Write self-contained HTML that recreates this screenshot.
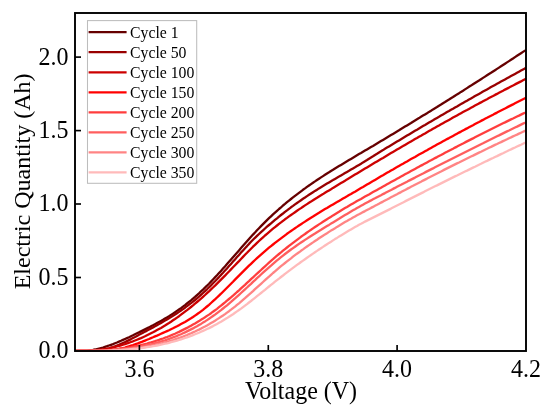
<!DOCTYPE html>
<html lang="en"><head><meta charset="utf-8"><title>Electric Quantity vs Voltage</title>
<style>html,body{margin:0;padding:0;background:#fff}body{width:550px;height:411px;overflow:hidden}svg{display:block}text{font-family:"Liberation Serif",serif;fill:#000}</style></head><body>
<svg width="550" height="411" viewBox="0 0 550 411">
<rect width="550" height="411" fill="#fff"/>
<defs><clipPath id="ax"><rect x="75" y="13" width="451" height="338.6"/></clipPath></defs>
<g clip-path="url(#ax)" fill="none" stroke-width="2.3" stroke-linejoin="round" stroke-linecap="butt">
<path d="M75.0,351.0 L77.0,351.0 L79.0,351.0 L81.0,351.0 L83.0,351.0 L85.0,350.9 L87.0,350.8 L89.0,350.5 L91.0,350.2 L93.0,349.9 L95.0,349.5 L97.0,349.0 L99.0,348.5 L101.0,348.0 L103.0,347.5 L105.0,346.8 L107.0,346.2 L109.0,345.5 L111.0,344.8 L113.0,344.1 L115.0,343.3 L117.0,342.5 L119.0,341.6 L121.0,340.8 L123.0,339.9 L125.0,339.0 L127.0,338.1 L129.0,337.2 L131.0,336.2 L133.0,335.3 L135.0,334.3 L137.0,333.3 L139.0,332.4 L141.0,331.4 L143.0,330.4 L145.0,329.4 L147.0,328.4 L149.0,327.4 L151.0,326.3 L153.0,325.3 L155.0,324.2 L157.0,323.1 L159.0,322.0 L161.0,320.9 L163.0,319.8 L165.0,318.6 L167.0,317.4 L169.0,316.2 L171.0,314.9 L173.0,313.6 L175.0,312.3 L177.0,310.9 L179.0,309.5 L181.0,308.1 L183.0,306.6 L185.0,305.1 L187.0,303.5 L189.0,301.9 L191.0,300.3 L193.0,298.6 L195.0,296.9 L197.0,295.1 L199.0,293.3 L201.0,291.4 L203.0,289.6 L205.0,287.6 L207.0,285.7 L209.0,283.7 L211.0,281.6 L213.0,279.5 L215.0,277.4 L217.0,275.3 L219.0,273.1 L221.0,270.9 L223.0,268.6 L225.0,266.4 L227.0,264.1 L229.0,261.8 L231.0,259.5 L233.0,257.2 L235.0,254.9 L237.0,252.7 L239.0,250.4 L241.0,248.1 L243.0,245.8 L245.0,243.5 L247.0,241.3 L249.0,239.0 L251.0,236.8 L253.0,234.6 L255.0,232.5 L257.0,230.3 L259.0,228.2 L261.0,226.1 L263.0,224.1 L265.0,222.1 L267.0,220.1 L269.0,218.2 L271.0,216.3 L273.0,214.4 L275.0,212.6 L277.0,210.8 L279.0,209.0 L281.0,207.3 L283.0,205.5 L285.0,203.9 L287.0,202.2 L289.0,200.6 L291.0,199.0 L293.0,197.4 L295.0,195.8 L297.0,194.3 L299.0,192.8 L301.0,191.3 L303.0,189.8 L305.0,188.4 L307.0,186.9 L309.0,185.5 L311.0,184.1 L313.0,182.7 L315.0,181.4 L317.0,180.0 L319.0,178.7 L321.0,177.4 L323.0,176.1 L325.0,174.8 L327.0,173.5 L329.0,172.3 L331.0,171.0 L333.0,169.8 L335.0,168.5 L337.0,167.3 L339.0,166.1 L341.0,164.9 L343.0,163.7 L345.0,162.5 L347.0,161.3 L349.0,160.1 L351.0,158.9 L353.0,157.7 L355.0,156.5 L357.0,155.3 L359.0,154.1 L361.0,153.0 L363.0,151.8 L365.0,150.6 L367.0,149.4 L369.0,148.2 L371.0,147.0 L373.0,145.9 L375.0,144.7 L377.0,143.5 L379.0,142.3 L381.0,141.1 L383.0,139.9 L385.0,138.7 L387.0,137.5 L389.0,136.3 L391.0,135.1 L393.0,133.9 L395.0,132.7 L397.0,131.5 L399.0,130.3 L401.0,129.0 L403.0,127.8 L405.0,126.6 L407.0,125.4 L409.0,124.2 L411.0,123.0 L413.0,121.7 L415.0,120.5 L417.0,119.3 L419.0,118.1 L421.0,116.8 L423.0,115.6 L425.0,114.4 L427.0,113.2 L429.0,111.9 L431.0,110.7 L433.0,109.4 L435.0,108.2 L437.0,107.0 L439.0,105.7 L441.0,104.5 L443.0,103.2 L445.0,102.0 L447.0,100.7 L449.0,99.5 L451.0,98.2 L453.0,97.0 L455.0,95.7 L457.0,94.4 L459.0,93.2 L461.0,91.9 L463.0,90.7 L465.0,89.4 L467.0,88.1 L469.0,86.8 L471.0,85.6 L473.0,84.3 L475.0,83.0 L477.0,81.7 L479.0,80.5 L481.0,79.2 L483.0,77.9 L485.0,76.6 L487.0,75.3 L489.0,74.0 L491.0,72.8 L493.0,71.5 L495.0,70.2 L497.0,68.9 L499.0,67.6 L501.0,66.3 L503.0,65.0 L505.0,63.7 L507.0,62.4 L509.0,61.1 L511.0,59.8 L513.0,58.5 L515.0,57.1 L517.0,55.8 L519.0,54.5 L521.0,53.2 L523.0,51.9 L525.0,50.6 L526.0,49.9" stroke="#660000"/>
<path d="M75.0,351.0 L77.0,350.9 L79.0,350.9 L81.0,350.9 L83.0,350.9 L85.0,350.8 L87.0,350.8 L89.0,350.8 L91.0,350.7 L93.0,350.6 L95.0,350.5 L97.0,350.4 L99.0,350.2 L101.0,349.9 L103.0,349.6 L105.0,349.2 L107.0,348.8 L109.0,348.3 L111.0,347.7 L113.0,347.1 L115.0,346.4 L117.0,345.6 L119.0,344.8 L121.0,343.9 L123.0,343.0 L125.0,342.1 L127.0,341.1 L129.0,340.1 L131.0,339.1 L133.0,338.0 L135.0,337.0 L137.0,335.9 L139.0,334.8 L141.0,333.8 L143.0,332.7 L145.0,331.6 L147.0,330.6 L149.0,329.5 L151.0,328.4 L153.0,327.4 L155.0,326.3 L157.0,325.2 L159.0,324.1 L161.0,322.9 L163.0,321.8 L165.0,320.6 L167.0,319.4 L169.0,318.2 L171.0,317.0 L173.0,315.8 L175.0,314.5 L177.0,313.2 L179.0,311.9 L181.0,310.5 L183.0,309.1 L185.0,307.7 L187.0,306.2 L189.0,304.7 L191.0,303.2 L193.0,301.6 L195.0,300.0 L197.0,298.3 L199.0,296.6 L201.0,294.8 L203.0,293.0 L205.0,291.2 L207.0,289.3 L209.0,287.3 L211.0,285.4 L213.0,283.3 L215.0,281.3 L217.0,279.2 L219.0,277.1 L221.0,274.9 L223.0,272.8 L225.0,270.6 L227.0,268.4 L229.0,266.1 L231.0,263.9 L233.0,261.6 L235.0,259.4 L237.0,257.1 L239.0,254.9 L241.0,252.6 L243.0,250.4 L245.0,248.2 L247.0,246.1 L249.0,243.9 L251.0,241.8 L253.0,239.8 L255.0,237.8 L257.0,235.9 L259.0,234.0 L261.0,232.1 L263.0,230.3 L265.0,228.5 L267.0,226.7 L269.0,225.0 L271.0,223.3 L273.0,221.6 L275.0,219.9 L277.0,218.3 L279.0,216.6 L281.0,215.0 L283.0,213.5 L285.0,211.9 L287.0,210.4 L289.0,208.8 L291.0,207.3 L293.0,205.9 L295.0,204.4 L297.0,203.0 L299.0,201.6 L301.0,200.2 L303.0,198.8 L305.0,197.5 L307.0,196.1 L309.0,194.8 L311.0,193.5 L313.0,192.2 L315.0,190.9 L317.0,189.7 L319.0,188.4 L321.0,187.2 L323.0,186.0 L325.0,184.8 L327.0,183.6 L329.0,182.4 L331.0,181.2 L333.0,180.1 L335.0,178.9 L337.0,177.7 L339.0,176.6 L341.0,175.4 L343.0,174.3 L345.0,173.1 L347.0,171.9 L349.0,170.8 L351.0,169.6 L353.0,168.4 L355.0,167.3 L357.0,166.1 L359.0,164.9 L361.0,163.7 L363.0,162.4 L365.0,161.2 L367.0,160.0 L369.0,158.7 L371.0,157.5 L373.0,156.3 L375.0,155.0 L377.0,153.8 L379.0,152.5 L381.0,151.3 L383.0,150.1 L385.0,148.8 L387.0,147.6 L389.0,146.4 L391.0,145.2 L393.0,144.0 L395.0,142.8 L397.0,141.6 L399.0,140.4 L401.0,139.2 L403.0,138.0 L405.0,136.8 L407.0,135.6 L409.0,134.4 L411.0,133.2 L413.0,132.0 L415.0,130.8 L417.0,129.7 L419.0,128.5 L421.0,127.3 L423.0,126.1 L425.0,125.0 L427.0,123.8 L429.0,122.6 L431.0,121.4 L433.0,120.3 L435.0,119.1 L437.0,117.9 L439.0,116.8 L441.0,115.6 L443.0,114.4 L445.0,113.3 L447.0,112.1 L449.0,111.0 L451.0,109.8 L453.0,108.7 L455.0,107.5 L457.0,106.4 L459.0,105.2 L461.0,104.1 L463.0,102.9 L465.0,101.8 L467.0,100.7 L469.0,99.5 L471.0,98.4 L473.0,97.3 L475.0,96.1 L477.0,95.0 L479.0,93.9 L481.0,92.8 L483.0,91.6 L485.0,90.5 L487.0,89.4 L489.0,88.3 L491.0,87.1 L493.0,86.0 L495.0,84.9 L497.0,83.8 L499.0,82.7 L501.0,81.6 L503.0,80.5 L505.0,79.4 L507.0,78.3 L509.0,77.2 L511.0,76.1 L513.0,75.0 L515.0,73.9 L517.0,72.8 L519.0,71.7 L521.0,70.6 L523.0,69.5 L525.0,68.4 L526.0,67.9" stroke="#990000"/>
<path d="M75.0,351.0 L77.0,351.0 L79.0,351.0 L81.0,351.0 L83.0,351.0 L85.0,351.0 L87.0,351.0 L89.0,350.9 L91.0,350.7 L93.0,350.6 L95.0,350.4 L97.0,350.2 L99.0,349.9 L101.0,349.6 L103.0,349.3 L105.0,349.0 L107.0,348.6 L109.0,348.3 L111.0,347.8 L113.0,347.4 L115.0,346.9 L117.0,346.4 L119.0,345.9 L121.0,345.3 L123.0,344.7 L125.0,344.1 L127.0,343.4 L129.0,342.8 L131.0,342.0 L133.0,341.3 L135.0,340.5 L137.0,339.7 L139.0,338.9 L141.0,338.1 L143.0,337.2 L145.0,336.3 L147.0,335.3 L149.0,334.3 L151.0,333.3 L153.0,332.3 L155.0,331.2 L157.0,330.1 L159.0,329.0 L161.0,327.9 L163.0,326.7 L165.0,325.5 L167.0,324.2 L169.0,323.0 L171.0,321.7 L173.0,320.3 L175.0,319.0 L177.0,317.6 L179.0,316.2 L181.0,314.7 L183.0,313.2 L185.0,311.7 L187.0,310.2 L189.0,308.6 L191.0,307.0 L193.0,305.4 L195.0,303.7 L197.0,302.0 L199.0,300.3 L201.0,298.6 L203.0,296.8 L205.0,295.0 L207.0,293.1 L209.0,291.3 L211.0,289.4 L213.0,287.5 L215.0,285.6 L217.0,283.6 L219.0,281.6 L221.0,279.6 L223.0,277.6 L225.0,275.6 L227.0,273.5 L229.0,271.5 L231.0,269.4 L233.0,267.3 L235.0,265.2 L237.0,263.1 L239.0,261.1 L241.0,259.0 L243.0,256.9 L245.0,254.8 L247.0,252.8 L249.0,250.7 L251.0,248.7 L253.0,246.7 L255.0,244.8 L257.0,242.9 L259.0,241.0 L261.0,239.1 L263.0,237.3 L265.0,235.5 L267.0,233.8 L269.0,232.1 L271.0,230.4 L273.0,228.7 L275.0,227.1 L277.0,225.5 L279.0,223.9 L281.0,222.4 L283.0,220.8 L285.0,219.3 L287.0,217.9 L289.0,216.4 L291.0,215.0 L293.0,213.6 L295.0,212.2 L297.0,210.8 L299.0,209.4 L301.0,208.1 L303.0,206.7 L305.0,205.4 L307.0,204.1 L309.0,202.8 L311.0,201.6 L313.0,200.3 L315.0,199.0 L317.0,197.8 L319.0,196.5 L321.0,195.3 L323.0,194.1 L325.0,192.8 L327.0,191.6 L329.0,190.4 L331.0,189.2 L333.0,187.9 L335.0,186.7 L337.0,185.5 L339.0,184.3 L341.0,183.1 L343.0,181.9 L345.0,180.7 L347.0,179.4 L349.0,178.2 L351.0,177.0 L353.0,175.8 L355.0,174.6 L357.0,173.4 L359.0,172.2 L361.0,171.0 L363.0,169.8 L365.0,168.6 L367.0,167.4 L369.0,166.2 L371.0,165.0 L373.0,163.8 L375.0,162.6 L377.0,161.4 L379.0,160.2 L381.0,159.0 L383.0,157.9 L385.0,156.7 L387.0,155.5 L389.0,154.3 L391.0,153.1 L393.0,151.9 L395.0,150.8 L397.0,149.6 L399.0,148.4 L401.0,147.2 L403.0,146.1 L405.0,144.9 L407.0,143.7 L409.0,142.6 L411.0,141.4 L413.0,140.3 L415.0,139.1 L417.0,138.0 L419.0,136.8 L421.0,135.7 L423.0,134.5 L425.0,133.4 L427.0,132.2 L429.0,131.1 L431.0,130.0 L433.0,128.8 L435.0,127.7 L437.0,126.6 L439.0,125.5 L441.0,124.3 L443.0,123.2 L445.0,122.1 L447.0,121.0 L449.0,119.9 L451.0,118.8 L453.0,117.6 L455.0,116.5 L457.0,115.4 L459.0,114.3 L461.0,113.2 L463.0,112.1 L465.0,111.0 L467.0,110.0 L469.0,108.9 L471.0,107.8 L473.0,106.7 L475.0,105.6 L477.0,104.5 L479.0,103.4 L481.0,102.4 L483.0,101.3 L485.0,100.2 L487.0,99.2 L489.0,98.1 L491.0,97.0 L493.0,96.0 L495.0,94.9 L497.0,93.9 L499.0,92.8 L501.0,91.7 L503.0,90.7 L505.0,89.6 L507.0,88.6 L509.0,87.6 L511.0,86.5 L513.0,85.5 L515.0,84.4 L517.0,83.4 L519.0,82.4 L521.0,81.4 L523.0,80.3 L525.0,79.3 L526.0,78.8" stroke="#cc0000"/>
<path d="M75.0,351.0 L77.0,350.8 L79.0,350.7 L81.0,350.7 L83.0,350.6 L85.0,350.6 L87.0,350.6 L89.0,350.6 L91.0,350.6 L93.0,350.6 L95.0,350.6 L97.0,350.6 L99.0,350.6 L101.0,350.6 L103.0,350.6 L105.0,350.6 L107.0,350.6 L109.0,350.5 L111.0,350.3 L113.0,350.0 L115.0,349.7 L117.0,349.4 L119.0,348.9 L121.0,348.5 L123.0,348.0 L125.0,347.5 L127.0,346.9 L129.0,346.3 L131.0,345.7 L133.0,345.1 L135.0,344.4 L137.0,343.7 L139.0,342.9 L141.0,342.2 L143.0,341.4 L145.0,340.6 L147.0,339.8 L149.0,339.0 L151.0,338.1 L153.0,337.3 L155.0,336.4 L157.0,335.6 L159.0,334.7 L161.0,333.8 L163.0,332.9 L165.0,332.0 L167.0,331.1 L169.0,330.2 L171.0,329.2 L173.0,328.3 L175.0,327.3 L177.0,326.3 L179.0,325.2 L181.0,324.1 L183.0,323.0 L185.0,321.9 L187.0,320.7 L189.0,319.5 L191.0,318.3 L193.0,317.0 L195.0,315.6 L197.0,314.2 L199.0,312.8 L201.0,311.3 L203.0,309.8 L205.0,308.2 L207.0,306.5 L209.0,304.8 L211.0,303.0 L213.0,301.2 L215.0,299.4 L217.0,297.5 L219.0,295.6 L221.0,293.7 L223.0,291.7 L225.0,289.7 L227.0,287.7 L229.0,285.7 L231.0,283.7 L233.0,281.7 L235.0,279.6 L237.0,277.6 L239.0,275.6 L241.0,273.6 L243.0,271.6 L245.0,269.6 L247.0,267.6 L249.0,265.7 L251.0,263.8 L253.0,261.9 L255.0,260.0 L257.0,258.2 L259.0,256.4 L261.0,254.6 L263.0,252.8 L265.0,251.1 L267.0,249.4 L269.0,247.7 L271.0,246.1 L273.0,244.5 L275.0,242.9 L277.0,241.3 L279.0,239.8 L281.0,238.3 L283.0,236.8 L285.0,235.3 L287.0,233.8 L289.0,232.4 L291.0,231.0 L293.0,229.6 L295.0,228.2 L297.0,226.9 L299.0,225.5 L301.0,224.2 L303.0,222.9 L305.0,221.6 L307.0,220.3 L309.0,219.0 L311.0,217.7 L313.0,216.5 L315.0,215.2 L317.0,214.0 L319.0,212.8 L321.0,211.5 L323.0,210.3 L325.0,209.1 L327.0,208.0 L329.0,206.8 L331.0,205.6 L333.0,204.4 L335.0,203.2 L337.0,202.1 L339.0,200.9 L341.0,199.8 L343.0,198.6 L345.0,197.4 L347.0,196.3 L349.0,195.1 L351.0,194.0 L353.0,192.8 L355.0,191.7 L357.0,190.5 L359.0,189.3 L361.0,188.1 L363.0,187.0 L365.0,185.8 L367.0,184.6 L369.0,183.4 L371.0,182.2 L373.0,181.1 L375.0,179.9 L377.0,178.7 L379.0,177.5 L381.0,176.3 L383.0,175.2 L385.0,174.0 L387.0,172.8 L389.0,171.7 L391.0,170.5 L393.0,169.4 L395.0,168.2 L397.0,167.1 L399.0,165.9 L401.0,164.8 L403.0,163.7 L405.0,162.5 L407.0,161.4 L409.0,160.2 L411.0,159.1 L413.0,158.0 L415.0,156.9 L417.0,155.7 L419.0,154.6 L421.0,153.5 L423.0,152.4 L425.0,151.3 L427.0,150.2 L429.0,149.0 L431.0,147.9 L433.0,146.8 L435.0,145.7 L437.0,144.6 L439.0,143.5 L441.0,142.4 L443.0,141.3 L445.0,140.2 L447.0,139.1 L449.0,138.1 L451.0,137.0 L453.0,135.9 L455.0,134.8 L457.0,133.7 L459.0,132.6 L461.0,131.6 L463.0,130.5 L465.0,129.4 L467.0,128.4 L469.0,127.3 L471.0,126.2 L473.0,125.2 L475.0,124.1 L477.0,123.0 L479.0,122.0 L481.0,120.9 L483.0,119.9 L485.0,118.8 L487.0,117.8 L489.0,116.7 L491.0,115.7 L493.0,114.7 L495.0,113.6 L497.0,112.6 L499.0,111.5 L501.0,110.5 L503.0,109.5 L505.0,108.5 L507.0,107.4 L509.0,106.4 L511.0,105.4 L513.0,104.4 L515.0,103.3 L517.0,102.3 L519.0,101.3 L521.0,100.3 L523.0,99.3 L525.0,98.3 L526.0,97.8" stroke="#ff0000"/>
<path d="M75.0,351.0 L77.0,351.0 L79.0,351.0 L81.0,351.0 L83.0,351.0 L85.0,351.0 L87.0,351.0 L89.0,351.0 L91.0,351.0 L93.0,351.0 L95.0,350.9 L97.0,350.8 L99.0,350.7 L101.0,350.6 L103.0,350.5 L105.0,350.4 L107.0,350.2 L109.0,350.0 L111.0,349.9 L113.0,349.7 L115.0,349.4 L117.0,349.2 L119.0,349.0 L121.0,348.7 L123.0,348.4 L125.0,348.1 L127.0,347.8 L129.0,347.4 L131.0,347.1 L133.0,346.7 L135.0,346.3 L137.0,345.9 L139.0,345.5 L141.0,345.0 L143.0,344.5 L145.0,344.0 L147.0,343.5 L149.0,342.9 L151.0,342.4 L153.0,341.8 L155.0,341.2 L157.0,340.5 L159.0,339.9 L161.0,339.2 L163.0,338.5 L165.0,337.7 L167.0,337.0 L169.0,336.2 L171.0,335.4 L173.0,334.5 L175.0,333.7 L177.0,332.8 L179.0,331.9 L181.0,330.9 L183.0,329.9 L185.0,328.9 L187.0,327.9 L189.0,326.8 L191.0,325.7 L193.0,324.6 L195.0,323.5 L197.0,322.3 L199.0,321.1 L201.0,319.8 L203.0,318.6 L205.0,317.3 L207.0,315.9 L209.0,314.6 L211.0,313.2 L213.0,311.7 L215.0,310.3 L217.0,308.8 L219.0,307.2 L221.0,305.6 L223.0,304.0 L225.0,302.4 L227.0,300.7 L229.0,299.0 L231.0,297.3 L233.0,295.6 L235.0,293.8 L237.0,292.0 L239.0,290.3 L241.0,288.4 L243.0,286.6 L245.0,284.8 L247.0,282.9 L249.0,281.1 L251.0,279.2 L253.0,277.4 L255.0,275.5 L257.0,273.7 L259.0,271.8 L261.0,270.0 L263.0,268.1 L265.0,266.3 L267.0,264.5 L269.0,262.7 L271.0,260.9 L273.0,259.2 L275.0,257.4 L277.0,255.7 L279.0,254.0 L281.0,252.4 L283.0,250.7 L285.0,249.1 L287.0,247.5 L289.0,245.9 L291.0,244.3 L293.0,242.8 L295.0,241.3 L297.0,239.8 L299.0,238.3 L301.0,236.8 L303.0,235.4 L305.0,234.0 L307.0,232.5 L309.0,231.1 L311.0,229.8 L313.0,228.4 L315.0,227.0 L317.0,225.7 L319.0,224.4 L321.0,223.1 L323.0,221.8 L325.0,220.5 L327.0,219.2 L329.0,217.9 L331.0,216.7 L333.0,215.4 L335.0,214.2 L337.0,213.0 L339.0,211.8 L341.0,210.5 L343.0,209.3 L345.0,208.1 L347.0,207.0 L349.0,205.8 L351.0,204.6 L353.0,203.4 L355.0,202.3 L357.0,201.1 L359.0,200.0 L361.0,198.9 L363.0,197.7 L365.0,196.6 L367.0,195.5 L369.0,194.4 L371.0,193.2 L373.0,192.1 L375.0,191.0 L377.0,189.9 L379.0,188.8 L381.0,187.7 L383.0,186.6 L385.0,185.4 L387.0,184.3 L389.0,183.2 L391.0,182.1 L393.0,181.0 L395.0,179.9 L397.0,178.8 L399.0,177.7 L401.0,176.6 L403.0,175.4 L405.0,174.3 L407.0,173.3 L409.0,172.2 L411.0,171.1 L413.0,170.0 L415.0,168.9 L417.0,167.8 L419.0,166.7 L421.0,165.6 L423.0,164.6 L425.0,163.5 L427.0,162.4 L429.0,161.3 L431.0,160.3 L433.0,159.2 L435.0,158.1 L437.0,157.1 L439.0,156.0 L441.0,155.0 L443.0,153.9 L445.0,152.8 L447.0,151.8 L449.0,150.7 L451.0,149.7 L453.0,148.7 L455.0,147.6 L457.0,146.6 L459.0,145.5 L461.0,144.5 L463.0,143.5 L465.0,142.4 L467.0,141.4 L469.0,140.4 L471.0,139.4 L473.0,138.4 L475.0,137.3 L477.0,136.3 L479.0,135.3 L481.0,134.3 L483.0,133.3 L485.0,132.3 L487.0,131.3 L489.0,130.3 L491.0,129.3 L493.0,128.3 L495.0,127.3 L497.0,126.3 L499.0,125.3 L501.0,124.3 L503.0,123.3 L505.0,122.4 L507.0,121.4 L509.0,120.4 L511.0,119.4 L513.0,118.5 L515.0,117.5 L517.0,116.5 L519.0,115.6 L521.0,114.6 L523.0,113.6 L525.0,112.7 L526.0,112.2" stroke="#ff3d3d"/>
<path d="M75.0,351.0 L77.0,351.0 L79.0,351.0 L81.0,351.0 L83.0,351.0 L85.0,351.0 L87.0,351.0 L89.0,351.0 L91.0,351.0 L93.0,350.9 L95.0,350.9 L97.0,350.8 L99.0,350.8 L101.0,350.7 L103.0,350.6 L105.0,350.5 L107.0,350.4 L109.0,350.3 L111.0,350.2 L113.0,350.0 L115.0,349.9 L117.0,349.7 L119.0,349.5 L121.0,349.3 L123.0,349.1 L125.0,348.9 L127.0,348.6 L129.0,348.4 L131.0,348.1 L133.0,347.8 L135.0,347.5 L137.0,347.2 L139.0,346.8 L141.0,346.4 L143.0,346.0 L145.0,345.6 L147.0,345.2 L149.0,344.7 L151.0,344.3 L153.0,343.8 L155.0,343.2 L157.0,342.7 L159.0,342.1 L161.0,341.5 L163.0,340.9 L165.0,340.3 L167.0,339.6 L169.0,338.9 L171.0,338.2 L173.0,337.4 L175.0,336.7 L177.0,335.9 L179.0,335.0 L181.0,334.2 L183.0,333.3 L185.0,332.4 L187.0,331.4 L189.0,330.4 L191.0,329.4 L193.0,328.4 L195.0,327.3 L197.0,326.2 L199.0,325.0 L201.0,323.9 L203.0,322.6 L205.0,321.4 L207.0,320.1 L209.0,318.8 L211.0,317.4 L213.0,316.0 L215.0,314.6 L217.0,313.1 L219.0,311.6 L221.0,310.1 L223.0,308.5 L225.0,306.9 L227.0,305.3 L229.0,303.6 L231.0,301.9 L233.0,300.1 L235.0,298.4 L237.0,296.6 L239.0,294.8 L241.0,293.0 L243.0,291.2 L245.0,289.3 L247.0,287.5 L249.0,285.6 L251.0,283.8 L253.0,281.9 L255.0,280.1 L257.0,278.2 L259.0,276.4 L261.0,274.5 L263.0,272.7 L265.0,270.9 L267.0,269.1 L269.0,267.3 L271.0,265.6 L273.0,263.8 L275.0,262.1 L277.0,260.4 L279.0,258.8 L281.0,257.2 L283.0,255.6 L285.0,254.0 L287.0,252.5 L289.0,251.0 L291.0,249.5 L293.0,248.1 L295.0,246.7 L297.0,245.3 L299.0,243.9 L301.0,242.5 L303.0,241.2 L305.0,239.9 L307.0,238.6 L309.0,237.3 L311.0,236.0 L313.0,234.7 L315.0,233.5 L317.0,232.2 L319.0,231.0 L321.0,229.8 L323.0,228.5 L325.0,227.3 L327.0,226.1 L329.0,224.9 L331.0,223.6 L333.0,222.4 L335.0,221.2 L337.0,220.0 L339.0,218.8 L341.0,217.5 L343.0,216.3 L345.0,215.1 L347.0,213.9 L349.0,212.7 L351.0,211.5 L353.0,210.3 L355.0,209.2 L357.0,208.0 L359.0,206.9 L361.0,205.8 L363.0,204.7 L365.0,203.6 L367.0,202.5 L369.0,201.4 L371.0,200.4 L373.0,199.3 L375.0,198.3 L377.0,197.2 L379.0,196.2 L381.0,195.2 L383.0,194.1 L385.0,193.1 L387.0,192.0 L389.0,191.0 L391.0,190.0 L393.0,188.9 L395.0,187.9 L397.0,186.8 L399.0,185.8 L401.0,184.8 L403.0,183.7 L405.0,182.7 L407.0,181.7 L409.0,180.6 L411.0,179.6 L413.0,178.6 L415.0,177.6 L417.0,176.5 L419.0,175.5 L421.0,174.5 L423.0,173.5 L425.0,172.4 L427.0,171.4 L429.0,170.4 L431.0,169.4 L433.0,168.4 L435.0,167.3 L437.0,166.3 L439.0,165.3 L441.0,164.3 L443.0,163.3 L445.0,162.3 L447.0,161.3 L449.0,160.2 L451.0,159.2 L453.0,158.2 L455.0,157.2 L457.0,156.2 L459.0,155.2 L461.0,154.2 L463.0,153.2 L465.0,152.2 L467.0,151.2 L469.0,150.2 L471.0,149.2 L473.0,148.2 L475.0,147.2 L477.0,146.2 L479.0,145.2 L481.0,144.2 L483.0,143.3 L485.0,142.3 L487.0,141.3 L489.0,140.3 L491.0,139.3 L493.0,138.3 L495.0,137.3 L497.0,136.3 L499.0,135.4 L501.0,134.4 L503.0,133.4 L505.0,132.4 L507.0,131.4 L509.0,130.5 L511.0,129.5 L513.0,128.5 L515.0,127.5 L517.0,126.6 L519.0,125.6 L521.0,124.6 L523.0,123.6 L525.0,122.7 L526.0,122.2" stroke="#ff5e5e"/>
<path d="M75.0,351.0 L77.0,351.0 L79.0,351.0 L81.0,351.0 L83.0,351.0 L85.0,351.0 L87.0,351.0 L89.0,351.0 L91.0,351.0 L93.0,351.0 L95.0,350.9 L97.0,350.9 L99.0,350.9 L101.0,350.8 L103.0,350.8 L105.0,350.7 L107.0,350.6 L109.0,350.5 L111.0,350.4 L113.0,350.3 L115.0,350.2 L117.0,350.1 L119.0,349.9 L121.0,349.8 L123.0,349.6 L125.0,349.4 L127.0,349.2 L129.0,349.0 L131.0,348.8 L133.0,348.6 L135.0,348.3 L137.0,348.1 L139.0,347.8 L141.0,347.5 L143.0,347.2 L145.0,346.8 L147.0,346.5 L149.0,346.1 L151.0,345.7 L153.0,345.3 L155.0,344.9 L157.0,344.4 L159.0,344.0 L161.0,343.5 L163.0,342.9 L165.0,342.4 L167.0,341.9 L169.0,341.3 L171.0,340.7 L173.0,340.1 L175.0,339.4 L177.0,338.7 L179.0,338.0 L181.0,337.3 L183.0,336.6 L185.0,335.8 L187.0,335.0 L189.0,334.1 L191.0,333.3 L193.0,332.4 L195.0,331.5 L197.0,330.5 L199.0,329.6 L201.0,328.6 L203.0,327.5 L205.0,326.5 L207.0,325.4 L209.0,324.3 L211.0,323.1 L213.0,321.9 L215.0,320.7 L217.0,319.4 L219.0,318.1 L221.0,316.8 L223.0,315.5 L225.0,314.1 L227.0,312.6 L229.0,311.2 L231.0,309.7 L233.0,308.1 L235.0,306.6 L237.0,304.9 L239.0,303.3 L241.0,301.6 L243.0,299.9 L245.0,298.2 L247.0,296.4 L249.0,294.6 L251.0,292.9 L253.0,291.1 L255.0,289.2 L257.0,287.4 L259.0,285.6 L261.0,283.8 L263.0,282.0 L265.0,280.2 L267.0,278.3 L269.0,276.6 L271.0,274.8 L273.0,273.0 L275.0,271.3 L277.0,269.6 L279.0,267.9 L281.0,266.2 L283.0,264.6 L285.0,263.0 L287.0,261.4 L289.0,259.8 L291.0,258.3 L293.0,256.7 L295.0,255.2 L297.0,253.7 L299.0,252.3 L301.0,250.8 L303.0,249.4 L305.0,247.9 L307.0,246.5 L309.0,245.1 L311.0,243.7 L313.0,242.4 L315.0,241.0 L317.0,239.7 L319.0,238.3 L321.0,237.0 L323.0,235.7 L325.0,234.4 L327.0,233.2 L329.0,231.9 L331.0,230.6 L333.0,229.4 L335.0,228.2 L337.0,226.9 L339.0,225.7 L341.0,224.5 L343.0,223.3 L345.0,222.1 L347.0,221.0 L349.0,219.8 L351.0,218.7 L353.0,217.5 L355.0,216.4 L357.0,215.3 L359.0,214.3 L361.0,213.2 L363.0,212.1 L365.0,211.1 L367.0,210.0 L369.0,209.0 L371.0,207.9 L373.0,206.9 L375.0,205.8 L377.0,204.8 L379.0,203.7 L381.0,202.6 L383.0,201.6 L385.0,200.5 L387.0,199.5 L389.0,198.4 L391.0,197.3 L393.0,196.3 L395.0,195.2 L397.0,194.2 L399.0,193.1 L401.0,192.1 L403.0,191.0 L405.0,190.0 L407.0,188.9 L409.0,187.9 L411.0,186.8 L413.0,185.8 L415.0,184.7 L417.0,183.7 L419.0,182.7 L421.0,181.7 L423.0,180.6 L425.0,179.6 L427.0,178.6 L429.0,177.5 L431.0,176.5 L433.0,175.5 L435.0,174.5 L437.0,173.5 L439.0,172.5 L441.0,171.5 L443.0,170.4 L445.0,169.4 L447.0,168.4 L449.0,167.4 L451.0,166.4 L453.0,165.4 L455.0,164.4 L457.0,163.4 L459.0,162.5 L461.0,161.5 L463.0,160.5 L465.0,159.5 L467.0,158.5 L469.0,157.5 L471.0,156.5 L473.0,155.6 L475.0,154.6 L477.0,153.6 L479.0,152.6 L481.0,151.7 L483.0,150.7 L485.0,149.7 L487.0,148.8 L489.0,147.8 L491.0,146.9 L493.0,145.9 L495.0,144.9 L497.0,144.0 L499.0,143.0 L501.0,142.1 L503.0,141.1 L505.0,140.2 L507.0,139.3 L509.0,138.3 L511.0,137.4 L513.0,136.4 L515.0,135.5 L517.0,134.6 L519.0,133.6 L521.0,132.7 L523.0,131.8 L525.0,130.9 L526.0,130.4" stroke="#ff8484"/>
<path d="M75.0,351.0 L77.0,351.0 L79.0,351.0 L81.0,351.0 L83.0,351.0 L85.0,351.0 L87.0,351.0 L89.0,351.0 L91.0,351.0 L93.0,351.0 L95.0,351.0 L97.0,351.0 L99.0,351.0 L101.0,350.9 L103.0,350.9 L105.0,350.8 L107.0,350.8 L109.0,350.7 L111.0,350.6 L113.0,350.5 L115.0,350.4 L117.0,350.3 L119.0,350.2 L121.0,350.1 L123.0,349.9 L125.0,349.8 L127.0,349.6 L129.0,349.4 L131.0,349.2 L133.0,349.0 L135.0,348.8 L137.0,348.6 L139.0,348.3 L141.0,348.1 L143.0,347.8 L145.0,347.5 L147.0,347.2 L149.0,346.9 L151.0,346.6 L153.0,346.2 L155.0,345.9 L157.0,345.5 L159.0,345.1 L161.0,344.6 L163.0,344.2 L165.0,343.7 L167.0,343.3 L169.0,342.8 L171.0,342.2 L173.0,341.7 L175.0,341.1 L177.0,340.6 L179.0,340.0 L181.0,339.3 L183.0,338.7 L185.0,338.0 L187.0,337.3 L189.0,336.6 L191.0,335.9 L193.0,335.1 L195.0,334.3 L197.0,333.5 L199.0,332.7 L201.0,331.8 L203.0,330.9 L205.0,330.0 L207.0,329.0 L209.0,328.1 L211.0,327.1 L213.0,326.1 L215.0,325.0 L217.0,323.9 L219.0,322.8 L221.0,321.7 L223.0,320.5 L225.0,319.3 L227.0,318.1 L229.0,316.8 L231.0,315.5 L233.0,314.2 L235.0,312.8 L237.0,311.4 L239.0,310.0 L241.0,308.6 L243.0,307.1 L245.0,305.6 L247.0,304.1 L249.0,302.5 L251.0,301.0 L253.0,299.4 L255.0,297.8 L257.0,296.2 L259.0,294.6 L261.0,293.0 L263.0,291.4 L265.0,289.8 L267.0,288.1 L269.0,286.5 L271.0,284.9 L273.0,283.3 L275.0,281.7 L277.0,280.1 L279.0,278.6 L281.0,277.0 L283.0,275.5 L285.0,273.9 L287.0,272.4 L289.0,270.9 L291.0,269.4 L293.0,267.9 L295.0,266.4 L297.0,264.9 L299.0,263.5 L301.0,262.0 L303.0,260.6 L305.0,259.2 L307.0,257.8 L309.0,256.4 L311.0,255.0 L313.0,253.6 L315.0,252.2 L317.0,250.9 L319.0,249.5 L321.0,248.2 L323.0,246.9 L325.0,245.5 L327.0,244.2 L329.0,242.9 L331.0,241.7 L333.0,240.4 L335.0,239.1 L337.0,237.9 L339.0,236.6 L341.0,235.4 L343.0,234.2 L345.0,233.0 L347.0,231.8 L349.0,230.6 L351.0,229.4 L353.0,228.2 L355.0,227.1 L357.0,226.0 L359.0,224.8 L361.0,223.8 L363.0,222.7 L365.0,221.6 L367.0,220.6 L369.0,219.6 L371.0,218.6 L373.0,217.6 L375.0,216.6 L377.0,215.6 L379.0,214.6 L381.0,213.6 L383.0,212.6 L385.0,211.6 L387.0,210.6 L389.0,209.6 L391.0,208.6 L393.0,207.5 L395.0,206.5 L397.0,205.5 L399.0,204.5 L401.0,203.5 L403.0,202.5 L405.0,201.4 L407.0,200.4 L409.0,199.4 L411.0,198.4 L413.0,197.4 L415.0,196.4 L417.0,195.4 L419.0,194.4 L421.0,193.4 L423.0,192.4 L425.0,191.3 L427.0,190.3 L429.0,189.3 L431.0,188.3 L433.0,187.3 L435.0,186.3 L437.0,185.4 L439.0,184.4 L441.0,183.4 L443.0,182.4 L445.0,181.4 L447.0,180.4 L449.0,179.4 L451.0,178.4 L453.0,177.4 L455.0,176.4 L457.0,175.5 L459.0,174.5 L461.0,173.5 L463.0,172.5 L465.0,171.5 L467.0,170.6 L469.0,169.6 L471.0,168.6 L473.0,167.6 L475.0,166.7 L477.0,165.7 L479.0,164.7 L481.0,163.8 L483.0,162.8 L485.0,161.8 L487.0,160.9 L489.0,159.9 L491.0,158.9 L493.0,158.0 L495.0,157.0 L497.0,156.1 L499.0,155.1 L501.0,154.1 L503.0,153.2 L505.0,152.2 L507.0,151.3 L509.0,150.3 L511.0,149.4 L513.0,148.4 L515.0,147.5 L517.0,146.5 L519.0,145.6 L521.0,144.7 L523.0,143.7 L525.0,142.8 L526.0,142.3" stroke="#ffbaba"/>
</g>
<g stroke="#000" stroke-width="1.65" fill="none">
<line x1="139.4" y1="351" x2="139.4" y2="345"/>
<line x1="268.3" y1="351" x2="268.3" y2="345"/>
<line x1="397.1" y1="351" x2="397.1" y2="345"/>
<line x1="75" y1="277.5" x2="81" y2="277.5"/>
<line x1="75" y1="204.0" x2="81" y2="204.0"/>
<line x1="75" y1="130.6" x2="81" y2="130.6"/>
<line x1="75" y1="57.1" x2="81" y2="57.1"/>
<rect x="75" y="13" width="451" height="338" stroke-width="1.9"/>
</g>
<g font-size="24px">
<text transform="translate(139.4,376.6) scale(1,1.03)" text-anchor="middle">3.6</text>
<text transform="translate(268.3,376.6) scale(1,1.03)" text-anchor="middle">3.8</text>
<text transform="translate(397.1,376.6) scale(1,1.03)" text-anchor="middle">4.0</text>
<text transform="translate(526.0,376.6) scale(1,1.03)" text-anchor="middle">4.2</text>
<text transform="translate(68.4,358.4) scale(1,1.03)" text-anchor="end">0.0</text>
<text transform="translate(68.4,284.9) scale(1,1.03)" text-anchor="end">0.5</text>
<text transform="translate(68.4,211.4) scale(1,1.03)" text-anchor="end">1.0</text>
<text transform="translate(68.4,138.0) scale(1,1.03)" text-anchor="end">1.5</text>
<text transform="translate(68.4,64.5) scale(1,1.03)" text-anchor="end">2.0</text>
<text transform="translate(301,399.3) scale(1,1.03)" text-anchor="middle">Voltage (V)</text>
<text transform="translate(29.8,181.4) rotate(-90)" text-anchor="middle">Electric Quantity (Ah)</text>
</g>
<rect x="87.5" y="20.6" width="109.2" height="162.7" fill="#fff" stroke="#bdbdbd" stroke-width="1.05"/>
<g font-size="15.75px">
<line x1="88.6" y1="32.2" x2="126.6" y2="32.2" stroke="#660000" stroke-width="2.2"/>
<text transform="translate(130.1,37.50) scale(1,1.06)">Cycle 1</text>
<line x1="88.6" y1="52.2" x2="126.6" y2="52.2" stroke="#990000" stroke-width="2.2"/>
<text transform="translate(130.1,57.53) scale(1,1.06)">Cycle 50</text>
<line x1="88.6" y1="72.3" x2="126.6" y2="72.3" stroke="#cc0000" stroke-width="2.2"/>
<text transform="translate(130.1,77.56) scale(1,1.06)">Cycle 100</text>
<line x1="88.6" y1="92.3" x2="126.6" y2="92.3" stroke="#ff0000" stroke-width="2.2"/>
<text transform="translate(130.1,97.59) scale(1,1.06)">Cycle 150</text>
<line x1="88.6" y1="112.3" x2="126.6" y2="112.3" stroke="#ff3d3d" stroke-width="2.2"/>
<text transform="translate(130.1,117.62) scale(1,1.06)">Cycle 200</text>
<line x1="88.6" y1="132.4" x2="126.6" y2="132.4" stroke="#ff5e5e" stroke-width="2.2"/>
<text transform="translate(130.1,137.65) scale(1,1.06)">Cycle 250</text>
<line x1="88.6" y1="152.4" x2="126.6" y2="152.4" stroke="#ff8484" stroke-width="2.2"/>
<text transform="translate(130.1,157.68) scale(1,1.06)">Cycle 300</text>
<line x1="88.6" y1="172.4" x2="126.6" y2="172.4" stroke="#ffbaba" stroke-width="2.2"/>
<text transform="translate(130.1,177.71) scale(1,1.06)">Cycle 350</text>
</g>
</svg></body></html>
